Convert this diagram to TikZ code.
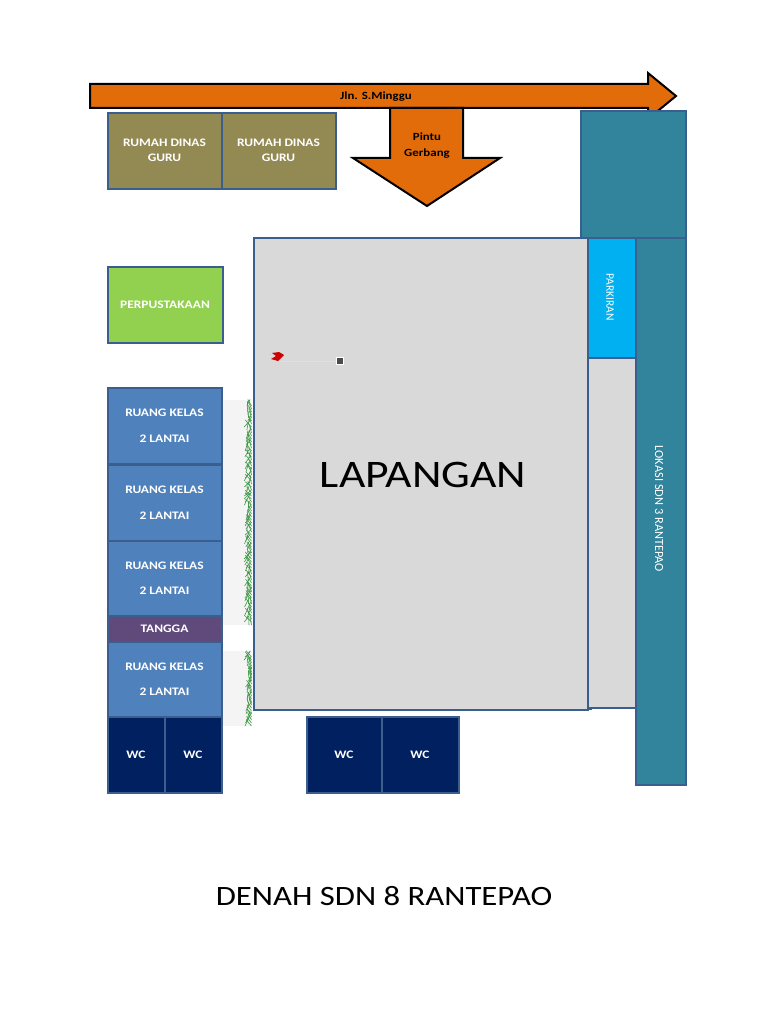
\documentclass[tikz,border=0pt]{standalone}
\usepackage{fontspec}
\setmainfont[FakeStretch=1.17]{Carlito}
\newfontfamily\plainfont{Carlito}
\definecolor{edgeblue}{HTML}{3A5F8F}
\definecolor{olivebox}{HTML}{938953}
\definecolor{arroworange}{HTML}{E36C0A}
\definecolor{tealbox}{HTML}{31849B}
\definecolor{skybox}{HTML}{00B0F0}
\definecolor{fieldgray}{HTML}{D9D9D9}
\definecolor{libgreen}{HTML}{92D050}
\definecolor{classblue}{HTML}{4F81BD}
\definecolor{stairpurple}{HTML}{604A7B}
\definecolor{wcnavy}{HTML}{002060}
\definecolor{grassgreen}{HTML}{3F9A45}
\definecolor{stripgray}{HTML}{F4F4F4}
\tikzset{
  x=1pt,y=-1pt,
  room/.style={draw=edgeblue,line width=2pt,inner sep=0pt,outer sep=0pt,align=center,text=white,
     font=\fontsize{11.5}{15}\selectfont\bfseries,anchor=north west,xshift=.5pt,yshift=-.7pt},
  kelas/.style={room,fill=classblue,font=\fontsize{11.5}{25.5}\selectfont\bfseries},
  wc/.style={room,fill=wcnavy,font=\fontsize{11.5}{14}\selectfont\bfseries},
  arrowshape/.style={draw=black,line width=2pt,fill=arroworange,line join=miter},
  arrowtext/.style={text=black,font=\fontsize{11}{16}\selectfont\bfseries,align=center,inner sep=0pt},
  strip/.style={fill=stripgray,draw=none},
  blade/.style={draw=grassgreen,line width=.6pt}
}
\newcommand{\grass}[3]{%
  \foreach \i in {#1,#2,...,#3}{%
    \pgfmathsetmacro{\dxa}{244+rnd*5}
    \pgfmathsetmacro{\dxb}{247+rnd*5}
    \pgfmathsetmacro{\yt}{\i-2-rnd*4}
    \pgfmathsetmacro{\yb}{\i+3}
    \pgfmathsetmacro{\xa}{\dxa+1}
    \draw[blade] (\dxa,\yb) -- (\dxb,\yt);
    \draw[blade] (251.5,\yb) -- (\xa,\yt);
  }%
}
\begin{document}
\begin{tikzpicture}
\useasboundingbox (0,0) rectangle (768,1024);
\pgfmathsetseed{8}
\fill[white] (0,0) rectangle (768,1024);

% top road arrow
\draw[arrowshape] (90,84) -- (648,84) -- (648,73) -- (676,96) -- (648,119) -- (648,108) -- (90,108) -- cycle;
\node[arrowtext] (road) at (376,96.5) {Jln. S.Minggu};

% gate arrow
\draw[arrowshape] (390,108) -- (463,108) -- (463,158) -- (500,158) -- (427,206) -- (353,158) -- (390,158) -- cycle;
\node[arrowtext] (gate) at (427,145.5) {Pintu\\Gerbang};

% houses
\node[room,fill=olivebox,minimum width=114pt,minimum height=76pt] (rumah1) at (107,112) {RUMAH DINAS\\GURU};
\node[room,fill=olivebox,minimum width=114pt,minimum height=76pt] (rumah2) at (221,112) {RUMAH DINAS\\GURU};

% right side
\node[room,fill=tealbox,minimum width=105pt,minimum height=127pt] (tealtop) at (580,110) {};
\node[room,fill=tealbox,minimum width=50pt,minimum height=547pt] (lokasi) at (635,237) {};
\node[text=white,rotate=-90,font=\plainfont\fontsize{12.4}{15}\selectfont,inner sep=0pt] (lokasitext) at (659,509) {LOKASI SDN 3 RANTEPAO};
\node[room,fill=fieldgray,minimum width=49pt,minimum height=350pt] (graystrip) at (586,357) {};
\node[room,fill=skybox,minimum width=49pt,minimum height=120pt] (parkir) at (586,237) {};
\node[text=white,rotate=-90,font=\plainfont\fontsize{11.5}{14}\selectfont,inner sep=0pt] (parkirtext) at (610,297) {PARKIRAN};

% field
\node[room,fill=fieldgray,minimum width=334pt,minimum height=472pt] (lapangan) at (253,237) {};
\draw[edgeblue,line width=2pt] (587,709) -- (592,709);
\node[text=black,font=\fontsize{39}{40}\selectfont,inner sep=0pt] (lapangantext) at (423,474.5) {LAPANGAN};

% flag
\coordinate (flagstart) at (281,361);
\node[fill=black!70,draw=white,line width=.5pt,minimum size=7pt,inner sep=0pt] (flagpole) at (339.5,361) {};
\draw[white!88!black,line width=1pt] (flagstart) -- (flagpole);
\fill[red!80!black] (271,359) -- (276,356) -- (272,353) -- (279,352) -- (284,355) -- (278,361) -- cycle;

% strips and grass
\fill[strip] (222,400) rectangle (252,625);
\fill[strip] (222,651) rectangle (252,726);
\grass{403}{406}{623}
\grass{654}{657}{723}
\draw[edgeblue,line width=2pt] (222,625) -- (222,651);

% library
\node[room,fill=libgreen,minimum width=115pt,minimum height=76pt] (perpus) at (107,266) {PERPUSTAKAAN};

% classrooms
\node[kelas,minimum width=114pt,minimum height=76pt] (kelas1) at (107,387) {RUANG KELAS\\2 LANTAI};
\node[kelas,minimum width=114pt,minimum height=76pt] (kelas2) at (107,464) {RUANG KELAS\\2 LANTAI};
\node[kelas,minimum width=114pt,minimum height=75pt] (kelas3) at (107,540) {RUANG KELAS\\2 LANTAI};
\node[kelas,minimum width=114pt,minimum height=75pt] (kelas4) at (107,641) {RUANG KELAS\\2 LANTAI};
\node[room,fill=stairpurple,minimum width=114pt,minimum height=26pt] (tangga) at (107,615) {TANGGA};

% toilets
\node[wc,minimum width=57pt,minimum height=76pt] (wc1) at (107,716) {WC};
\node[wc,minimum width=57pt,minimum height=76pt] (wc2) at (164,716) {WC};
\node[wc,minimum width=75pt,minimum height=76pt] (wc3) at (306,716) {WC};
\node[wc,minimum width=77pt,minimum height=76pt] (wc4) at (381,716) {WC};

% title
\node[text=black,font=\fontsize{28}{32}\selectfont,inner sep=0pt] (title) at (384,896.5) {DENAH SDN 8 RANTEPAO};
\end{tikzpicture}
\end{document}
